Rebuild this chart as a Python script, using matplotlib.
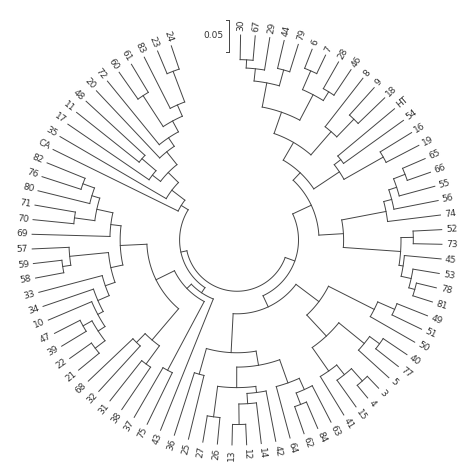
import numpy as np
import matplotlib
matplotlib.use("Agg")
import matplotlib.pyplot as plt

# leaf order, clockwise from the top
LEAVES = ["30", "67", "29", "44", "79", "6", "7", "28", "46", "8", "9", "18", "HT", "54",
          "16", "19", "65", "66", "55", "56", "74", "52", "73", "45", "53", "78", "81", "49",
          "51", "50", "40", "77", "5", "3", "4", "15", "41", "63", "84", "62", "64", "42",
          "14", "12", "13", "26", "27", "25", "36", "43", "75", "37", "38", "31", "32", "68",
          "21", "22", "39", "47", "10", "34", "33", "58", "59", "57", "69", "70", "71", "80",
          "76", "82", "CA", "35", "17", "11", "48", "20", "72", "60", "61", "83", "23", "24"]


def T(r, *kids):
    return (r, list(kids))


# tree: (merge radius as fraction of leaf radius, children)
top9 = T(0.66, T(0.78, T(0.84, T(0.88, "30", "67"), "29"), T(0.86, "44", "79")),
         T(0.80, T(0.90, "6", "7"), T(0.85, "28", "46")))
g8 = T(0.70, "8", T(0.82, "9", "18"))
gHT = T(0.60, T(0.64, "HT", "54"), T(0.82, "16", "19"))
topright = T(0.45, T(0.55, top9, g8), gHT)
g65 = T(0.74, T(0.78, T(0.82, T(0.88, "65", "66"), "55"), "56"), "74")
g52 = T(0.80, T(0.86, "52", "73"), T(0.82, "45", T(0.87, "53", T(0.90, "78", "81"))))
R1 = T(0.40, topright, T(0.52, g65, g52))
g49 = T(0.75, T(0.84, "49", "51"), "50")
g40 = T(0.80, T(0.86, "40", "77"), "5")
g3 = T(0.78, T(0.84, T(0.92, "3", "4"), "15"), "41")
R2 = T(0.50, g49, T(0.64, g40, g3))
g63 = T(0.74, T(0.80, "63", T(0.86, "84", "62")), "64")
g42 = T(0.72, T(0.75, "42", T(0.80, "14", T(0.90, "12", "13"))), T(0.87, "26", "27"))
gbot = T(0.55, T(0.62, g63, g42), T(0.68, "25", "36"))
bl = T(0.64, T(0.75, "38", "31"), T(0.70, "32", "68"))
g_a = T(0.68, T(0.74, T(0.77, T(0.81, T(0.87, "21", "22"), T(0.86, "39", "47")), "10"), "34"), "33")
g_b = T(0.82, T(0.86, "58", "59"), "57")
g_c = T(0.62, "69", T(0.70, T(0.80, "70", "71"), T(0.74, "80", T(0.80, "76", "82"))))
left_big = T(0.44, bl, T(0.57, T(0.63, g_a, g_b), g_c))
upper = T(0.55, "20", T(0.60, "72", T(0.66, T(0.84, "60", "61"), T(0.72, "83", T(0.88, "23", "24")))))
tl = T(0.32, "CA", T(0.40, "35", T(0.47, T(0.52, "17", T(0.61, "11", "48")), upper)))
ROOT = T(0.25, T(0.30, R1, T(0.36, R2, gbot)),
         T(0.28, T(0.31, "43", T(0.34, T(0.72, "75", "37"), left_big)), tl))

START, STEP = 89.0, 4.1
ang = {name: np.radians(START - i * STEP) for i, name in enumerate(LEAVES)}

fig = plt.figure(figsize=(4.74, 4.75), dpi=100)
ax = fig.add_axes([0, 0, 1, 1])
R = 205.0
CY = 240.0
ax.set_xlim(-237 / R, 237 / R)
ax.set_ylim(-(475 - CY) / R, CY / R)
ax.axis("off")
LC = "#444444"
LW = 0.7


def draw(node):
    if isinstance(node, str):
        return ang[node], 1.0
    r, kids = node
    res = [draw(k) for k in kids]
    a = [x[0] for x in res]
    for ca, cr in res:
        ax.plot([r * np.cos(ca), cr * np.cos(ca)], [r * np.sin(ca), cr * np.sin(ca)], color=LC, lw=LW)
    t = np.linspace(min(a), max(a), 60)
    ax.plot(r * np.cos(t), r * np.sin(t), color=LC, lw=LW)
    return (min(a) + max(a)) / 2, r


draw(ROOT)

for name, a in ang.items():
    d = np.degrees(a)
    x, y = 1.02 * np.cos(a), 1.02 * np.sin(a)
    if np.cos(a) >= 0:
        ax.text(x, y, name, rotation=d, ha="left", va="center", rotation_mode="anchor",
                fontsize=6.5, color="#333333")
    else:
        ax.text(x, y, name, rotation=d + 180, ha="right", va="center", rotation_mode="anchor",
                fontsize=6.5, color="#333333")

# scale bar
x0, y1, y2 = -8 / R, (CY - 20) / R, (CY - 52) / R
ax.plot([x0, x0], [y1, y2], color=LC, lw=LW)
ax.plot([x0 - 3 / R, x0], [y1, y1], color=LC, lw=LW)
ax.plot([x0 - 3 / R, x0], [y2, y2], color=LC, lw=LW)
ax.text(x0 - 6 / R, (y1 + y2) / 2, "0.05", ha="right", va="center", fontsize=6.5, color="#333333")

fig.savefig("out.png", dpi=100)
